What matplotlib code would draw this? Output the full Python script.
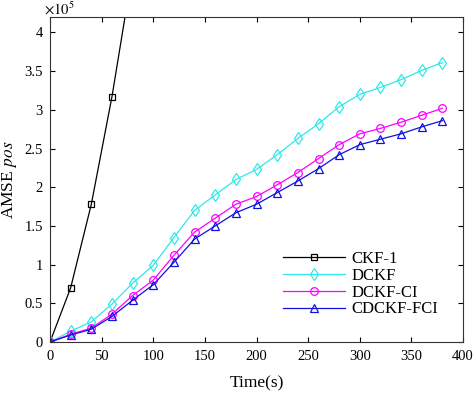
import matplotlib
matplotlib.use("Agg")
import matplotlib.pyplot as plt
import numpy as np

plt.rcParams['font.family'] = 'Liberation Serif'
plt.rcParams['mathtext.fontset'] = 'stix'

# time axis (s)
t = [0, 20, 40, 60, 80, 100, 120, 140, 160, 180, 200,
     220, 240, 260, 280, 300, 320, 340, 360, 380]
t_ckf = [0, 20, 40, 60, 80]

# AMSE pos values, in units of 1e5
ckf1 = [0, 0.70, 1.78, 3.17, 4.80]
dckf = [0, 0.14, 0.26, 0.49, 0.76, 0.99, 1.35, 1.70, 1.90, 2.10, 2.23,
        2.42, 2.63, 2.82, 3.04, 3.20, 3.29, 3.39, 3.51, 3.61]
dckf_ci = [0, 0.10, 0.18, 0.36, 0.60, 0.80, 1.12, 1.42, 1.60, 1.78, 1.88,
           2.03, 2.19, 2.37, 2.55, 2.69, 2.76, 2.84, 2.93, 3.02]
cdckf_fci = [0, 0.09, 0.165, 0.33, 0.54, 0.74, 1.03, 1.33, 1.50, 1.67, 1.78,
             1.93, 2.08, 2.24, 2.42, 2.55, 2.62, 2.69, 2.78, 2.86]

fig = plt.figure(figsize=(4.74, 3.94), dpi=100)
ax = fig.add_axes([0.1055, 0.132, 0.8715, 0.825])

lw = 0.9
ax.plot(t_ckf, ckf1, color='k', marker='s', mfc='none', ms=4.5, mew=0.9, lw=lw, label='CKF-1')
ax.plot(t, dckf, color='#30e8e8', marker='d', mfc='none', ms=6.5, mew=0.9, lw=lw, label='DCKF')
ax.plot(t, dckf_ci, color='#ff00ff', marker='o', mfc='none', ms=5.5, mew=0.9, lw=lw, label='DCKF-CI')
ax.plot(t, cdckf_fci, color='#1010e0', marker='^', mfc='none', ms=5.5, mew=0.9, lw=lw, label='CDCKF-FCI')

ax.set_xlim(0, 400)
ax.set_ylim(0, 4.2)
ax.set_xticks(np.arange(0, 401, 50))
ax.set_yticks(np.arange(0, 4.01, 0.5))
ax.set_yticklabels([f'{v:g}' for v in np.arange(0, 4.01, 0.5)])
ax.tick_params(direction='in', top=True, right=True, length=3.5, labelsize=10.5, pad=5)
ax.tick_params(axis='x', pad=6)
for s in ax.spines.values():
    s.set_linewidth(0.8)
    s.set_color('#333333')

ax.text(-0.015, 0.998, r'$\times 10^5$', transform=ax.transAxes, fontsize=10.5,
        ha='left', va='bottom')

ax.set_xlabel('Time(s)', fontsize=12.5, labelpad=9)
ax.set_ylabel(r'AMSE $pos$', fontsize=12.5, labelpad=4)

ax.legend(loc='upper left', bbox_to_anchor=(0.564, 0.28), frameon=False,
          fontsize=12, borderpad=0, borderaxespad=0, labelspacing=0.05,
          handlelength=3.7, handletextpad=0.4, markerscale=1)

fig.savefig('out.png', dpi=100)
